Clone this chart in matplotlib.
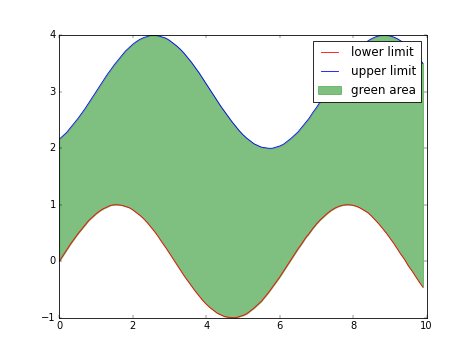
import matplotlib
matplotlib.use('Agg')
import matplotlib.pyplot as plt

# values, x step 0.1
x = [i / 10 for i in range(100)]
lower = [0.00, 0.10, 0.20, 0.30, 0.39, 0.48, 0.56, 0.64, 0.72, 0.78,
         0.84, 0.89, 0.93, 0.96, 0.99, 1.00, 1.00, 0.99, 0.97, 0.95,
         0.91, 0.86, 0.81, 0.75, 0.68, 0.60, 0.52, 0.43, 0.33, 0.24,
         0.14, 0.04, -0.06, -0.16, -0.26, -0.35, -0.44, -0.53, -0.61, -0.69,
         -0.76, -0.82, -0.87, -0.92, -0.95, -0.98, -0.99, -1.00, -1.00, -0.98,
         -0.96, -0.93, -0.88, -0.83, -0.77, -0.71, -0.63, -0.55, -0.46, -0.37,
         -0.28, -0.18, -0.08, 0.02, 0.12, 0.22, 0.31, 0.41, 0.49, 0.58,
         0.66, 0.73, 0.79, 0.85, 0.90, 0.94, 0.97, 0.99, 1.00, 1.00,
         0.99, 0.97, 0.94, 0.90, 0.86, 0.80, 0.73, 0.66, 0.58, 0.50,
         0.41, 0.32, 0.22, 0.12, 0.03, -0.08, -0.17, -0.27, -0.37, -0.46]
upper = [2.16, 2.22, 2.28, 2.36, 2.44, 2.52, 2.61, 2.70, 2.80, 2.90,
         3.00, 3.10, 3.20, 3.30, 3.39, 3.48, 3.56, 3.64, 3.72, 3.78,
         3.84, 3.89, 3.93, 3.96, 3.98, 4.00, 4.00, 3.99, 3.97, 3.95,
         3.91, 3.86, 3.81, 3.75, 3.68, 3.60, 3.52, 3.43, 3.34, 3.24,
         3.14, 3.04, 2.94, 2.84, 2.74, 2.65, 2.56, 2.47, 2.39, 2.31,
         2.24, 2.18, 2.13, 2.08, 2.05, 2.02, 2.01, 2.00, 2.00, 2.02,
         2.04, 2.07, 2.12, 2.17, 2.23, 2.29, 2.37, 2.45, 2.53, 2.63,
         2.72, 2.82, 2.92, 3.02, 3.12, 3.22, 3.31, 3.41, 3.49, 3.58,
         3.66, 3.73, 3.79, 3.85, 3.90, 3.94, 3.97, 3.99, 4.00, 4.00,
         3.99, 3.97, 3.94, 3.90, 3.86, 3.80, 3.73, 3.66, 3.59, 3.50]

plt.style.use('classic')
# original looks like an 8x6in figure scaled down to 474x353
fig = plt.figure(figsize=(8, 5.958), dpi=59.25, facecolor='white')
ax = fig.add_subplot(111)

ax.plot(x, lower, color='red', label='lower limit')
ax.plot(x, upper, color='blue', label='upper limit')
ax.fill_between(x, lower, upper, color='green', alpha=0.5, label='green area')

ax.set_xlim(0, 10)
ax.set_ylim(-1, 4)
ax.legend(loc='upper right')

fig.savefig('out.png', dpi=59.25, facecolor='white')
